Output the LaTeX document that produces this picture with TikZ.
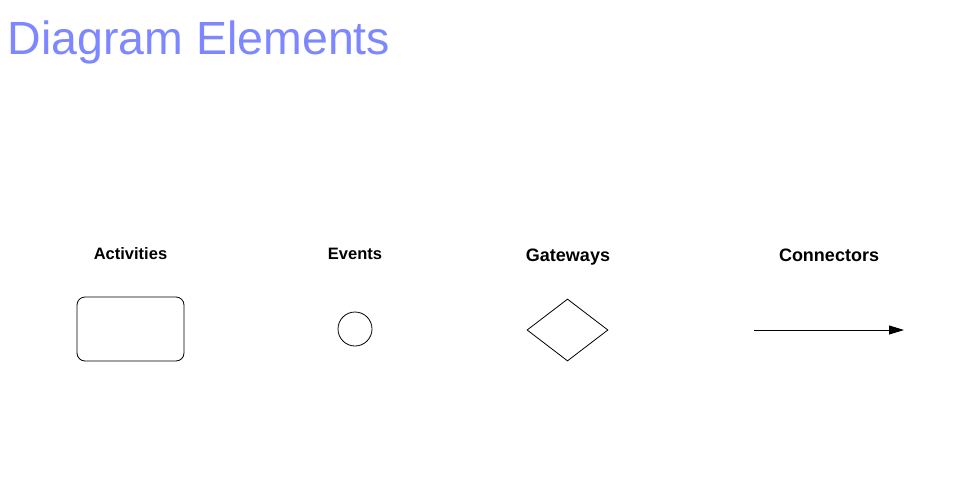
\documentclass[tikz,border=0pt]{standalone}
\usepackage{fontspec}
\setmainfont{Liberation Sans}
\usetikzlibrary{shapes.geometric,arrows.meta}
\definecolor{titleblue}{RGB}{125,135,255}
\tikzset{
  lbl/.style={anchor=base,inner sep=0pt,font=\bfseries\fontsize{16.5}{18}\selectfont},
  lblbig/.style={anchor=base,inner sep=0pt,font=\bfseries\fontsize{18}{20}\selectfont},
  shp/.style={draw=black,line width=0.8pt,inner sep=0pt},
}
\begin{document}
\begin{tikzpicture}[x=1pt,y=-1pt]
\useasboundingbox (0,0) rectangle (953,477);
\node[anchor=base west,inner sep=0pt,text=titleblue,font=\fontsize{46.5}{50}\selectfont] (title) at (7.5,54) {Diagram Elements};
\node[lbl] (lact) at (130.5,259) {Activities};
\node[lbl] (levt) at (355,259) {Events};
\node[lblbig] (lgw) at (568,261) {Gateways};
\node[lblbig] (lcon) at (829,261) {Connectors};
\node[shp,rectangle,rounded corners=8pt,minimum width=107pt,minimum height=64pt] (act) at (130.5,329) {};
\node[shp,circle,minimum size=34pt] (evt) at (355,329) {};
\node[shp,diamond,minimum width=81pt,minimum height=62pt] (gw) at (567.5,330) {};
\coordinate (c1) at (754,330);
\coordinate (c2) at (904,330);
\draw[line width=0.9pt,-{Triangle[length=15pt,width=9pt]}] (c1) -- (c2);
\end{tikzpicture}
\end{document}
